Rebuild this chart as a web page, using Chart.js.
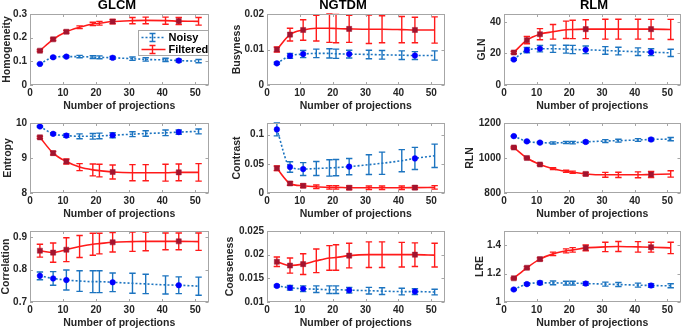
<!DOCTYPE html>
<html><head><meta charset="utf-8">
<script src="https://cdn.jsdelivr.net/npm/chart.js@4"></script>
<style>
html,body{margin:0;padding:0;background:#fff;width:685px;height:329px;overflow:hidden;position:relative}
canvas{position:absolute;display:block}
</style></head><body>
<script>
// ---------------- data ----------------
const projections = [3,7,11,15,19,21,25,31,35,41,45,51];
const markerProjections = [3,7,11,25,45];
const seriesNames = ['Noisy','Filtered'];
const xAxisLabel = 'Number of projections';

const homogeneityNoisy = [0.089,0.117,0.120,0.120,0.118,0.117,0.115,0.111,0.108,0.106,0.103,0.101];
const homogeneityNoisyErr = [0.002,0.004,0.004,0.005,0.006,0.006,0.006,0.007,0.007,0.007,0.006,0.007];
const homogeneityFiltered = [0.145,0.193,0.225,0.244,0.258,0.261,0.268,0.272,0.273,0.272,0.270,0.269];
const homogeneityFilteredErr = [0.004,0.005,0.006,0.006,0.007,0.008,0.009,0.013,0.014,0.015,0.015,0.016];

const busynessNoisy = [0.0061,0.0082,0.0087,0.0089,0.0089,0.0088,0.0087,0.0086,0.0085,0.0084,0.0083,0.0083];
const busynessNoisyErr = [0.0003,0.0007,0.0010,0.0012,0.0013,0.0013,0.0011,0.0012,0.0012,0.0012,0.0011,0.0013];
const busynessFiltered = [0.0100,0.0142,0.0155,0.0160,0.0160,0.0159,0.0158,0.0157,0.0157,0.0156,0.0155,0.0155];
const busynessFilteredErr = [0.0007,0.0018,0.0029,0.0036,0.0040,0.0040,0.0038,0.0040,0.0038,0.0037,0.0036,0.0037];

const glnNoisy = [16.2,22.1,23.0,23.0,22.7,22.5,22.3,21.9,21.5,21.1,20.8,20.4];
const glnNoisyErr = [0.6,1.7,2.0,2.3,2.5,2.6,2.4,2.4,2.4,2.4,2.2,2.3];
const glnFiltered = [20.6,28.4,32.2,33.7,35.0,35.2,35.4,35.4,35.4,35.4,35.4,35.2];
const glnFilteredErr = [0.7,2.3,3.5,4.6,5.5,5.8,6.0,6.3,6.3,6.3,6.2,6.4];

const entropyNoisy = [9.90,9.69,9.64,9.62,9.62,9.63,9.65,9.68,9.70,9.72,9.74,9.76];
const entropyNoisyErr = [0.02,0.03,0.05,0.07,0.08,0.08,0.07,0.07,0.08,0.08,0.06,0.07];
const entropyFiltered = [9.59,9.14,8.90,8.74,8.66,8.64,8.60,8.58,8.58,8.58,8.59,8.59];
const entropyFilteredErr = [0.03,0.05,0.07,0.10,0.17,0.18,0.20,0.23,0.23,0.24,0.24,0.25];

const contrastNoisy = [0.109,0.0446,0.041,0.042,0.043,0.0435,0.0452,0.0486,0.051,0.0554,0.0593,0.0638];
const contrastNoisyErr = [0.011,0.009,0.011,0.012,0.014,0.014,0.014,0.017,0.019,0.019,0.019,0.020];
const contrastFiltered = [0.0424,0.0164,0.0124,0.0107,0.0096,0.0096,0.0090,0.0090,0.0090,0.0090,0.0092,0.0096];
const contrastFilteredErr = [0.004,0.003,0.003,0.003,0.003,0.003,0.003,0.003,0.003,0.003,0.003,0.003];

const rlnNoisy = [1125,1095,1088,1086,1088,1088,1092,1097,1099,1103,1106,1108];
const rlnNoisyErr = [3,4,5,6,6,7,6,8,8,8,7,9];
const rlnFiltered = [1060,1000,963,939,924,919,909,904,904,904,906,909];
const rlnFilteredErr = [4,4,5,5,6,6,9,14,15,17,17,18];

const correlationNoisy = [0.781,0.773,0.768,0.765,0.763,0.763,0.761,0.758,0.756,0.753,0.752,0.749];
const correlationNoisyErr = [0.012,0.021,0.031,0.032,0.034,0.034,0.029,0.031,0.030,0.028,0.026,0.028];
const correlationFiltered = [0.859,0.853,0.862,0.872,0.879,0.881,0.885,0.887,0.888,0.888,0.888,0.887];
const correlationFilteredErr = [0.020,0.030,0.037,0.034,0.034,0.032,0.030,0.030,0.029,0.026,0.026,0.027];

const coarsenessNoisy = [0.0134,0.0130,0.0128,0.0127,0.0126,0.0126,0.0125,0.0124,0.0123,0.0122,0.0122,0.0121];
const coarsenessNoisyErr = [0.0002,0.0005,0.0006,0.0007,0.0008,0.0008,0.0006,0.0007,0.0007,0.0007,0.0006,0.0006];
const coarsenessFiltered = [0.0185,0.0177,0.0180,0.0187,0.0193,0.0194,0.0198,0.0200,0.0200,0.0200,0.0200,0.0199];
const coarsenessFilteredErr = [0.0010,0.0016,0.0022,0.0025,0.0026,0.0027,0.0026,0.0027,0.0027,0.0026,0.0025,0.0025];

const lreNoisy = [1.088,1.126,1.135,1.135,1.133,1.133,1.130,1.126,1.123,1.119,1.116,1.114];
const lreNoisyErr = [0.004,0.008,0.012,0.013,0.013,0.013,0.012,0.014,0.014,0.014,0.012,0.014];
const lreFiltered = [1.167,1.241,1.302,1.339,1.360,1.367,1.381,1.388,1.391,1.388,1.386,1.381];
const lreFilteredErr = [0.005,0.008,0.010,0.012,0.014,0.016,0.020,0.033,0.035,0.037,0.035,0.040];

// ---------------- styling / layout ----------------
const FONT = "'Liberation Sans', Arial, Helvetica, sans-serif";
const TEXT = '#262626';
const BLUE_LINE = '#1c74c0';
const BLUE_MARK = '#0000ff';
const RED_LINE = '#ff1a1a';
const RED_MARK = '#a2142f';
const FRAME = '#a6a6a6';

const cols = [{l:30,r:210},{l:267,r:446},{l:504,r:682}];
const rows = [{t:14,b:85},{t:122,b:193},{t:230,b:302}];

const panels = [
  {row:0,col:0,yTitle:'Homogeneity',yTitleX:7,  group:'GLCM', groupX:117, noisy:homogeneityNoisy, noisyErr:homogeneityNoisyErr, filt:homogeneityFiltered, filtErr:homogeneityFilteredErr, min:0,max:0.3,step:0.1, legend:true},
  {row:0,col:1,yTitle:'Busyness',   yTitleX:237,group:'NGTDM',groupX:343, noisy:busynessNoisy, noisyErr:busynessNoisyErr, filt:busynessFiltered, filtErr:busynessFilteredErr, min:0,max:0.02,step:0.01},
  {row:0,col:2,yTitle:'GLN',        yTitleX:482,group:'RLM',  groupX:594, noisy:glnNoisy, noisyErr:glnNoisyErr, filt:glnFiltered, filtErr:glnFilteredErr, min:0,max:45,step:20},
  {row:1,col:0,yTitle:'Entropy',    yTitleX:8,  noisy:entropyNoisy, noisyErr:entropyNoisyErr, filt:entropyFiltered, filtErr:entropyFilteredErr, min:8,max:10,step:1},
  {row:1,col:1,yTitle:'Contrast',   yTitleX:237,noisy:contrastNoisy, noisyErr:contrastNoisyErr, filt:contrastFiltered, filtErr:contrastFilteredErr, min:0,max:0.12,step:0.05},
  {row:1,col:2,yTitle:'RLN',        yTitleX:470,noisy:rlnNoisy, noisyErr:rlnNoisyErr, filt:rlnFiltered, filtErr:rlnFilteredErr, min:800,max:1200,step:200},
  {row:2,col:0,yTitle:'Correlation',yTitleX:6,  noisy:correlationNoisy, noisyErr:correlationNoisyErr, filt:correlationFiltered, filtErr:correlationFilteredErr, min:0.7,max:0.92,step:0.1},
  {row:2,col:1,yTitle:'Coarseness', yTitleX:230,noisy:coarsenessNoisy, noisyErr:coarsenessNoisyErr, filt:coarsenessFiltered, filtErr:coarsenessFilteredErr, min:0.01,max:0.025,step:0.005},
  {row:2,col:2,yTitle:'LRE',        yTitleX:480,noisy:lreNoisy, noisyErr:lreNoisyErr, filt:lreFiltered, filtErr:lreFilteredErr, min:1,max:1.5,step:0.2}
];

function drawErrIcon(ctx, x, y, half, cap){
  ctx.beginPath();
  ctx.moveTo(x, y-half); ctx.lineTo(x, y+half);
  ctx.moveTo(x-cap, y-half); ctx.lineTo(x+cap, y-half);
  ctx.moveTo(x-cap, y+half); ctx.lineTo(x+cap, y+half);
  ctx.stroke();
}

const panelPlugin = {
  id: 'panelDecor',
  beforeDatasetsDraw(chart){
    const {ctx, chartArea:ca} = chart;
    const xs = chart.scales.x, ys = chart.scales.y;
    ctx.save();
    ctx.beginPath(); ctx.rect(ca.left, ca.top-1, ca.right-ca.left, ca.bottom-ca.top+2); ctx.clip();
    chart.data.datasets.forEach(ds => {
      ctx.strokeStyle = ds.errorColor; ctx.lineWidth = 1.4;
      ds.data.forEach((p, i) => {
        const x = xs.getPixelForValue(p.x);
        const y1 = ys.getPixelForValue(p.y - ds.errors[i]);
        const y2 = ys.getPixelForValue(p.y + ds.errors[i]);
        ctx.beginPath();
        ctx.moveTo(x, y1); ctx.lineTo(x, y2);
        ctx.moveTo(x-3.2, y1); ctx.lineTo(x+3.2, y1);
        ctx.moveTo(x-3.2, y2); ctx.lineTo(x+3.2, y2);
        ctx.stroke();
      });
    });
    ctx.restore();
  },
  afterDraw(chart){
    const o = chart.options.plugins.panelDecor;
    const {ctx, chartArea:ca} = chart;
    const xs = chart.scales.x, ys = chart.scales.y;
    ctx.save();
    ctx.strokeStyle = FRAME; ctx.lineWidth = 1;
    ctx.strokeRect(Math.round(ca.left)+0.5, Math.round(ca.top)+0.5, Math.round(ca.right-ca.left)-1, Math.round(ca.bottom-ca.top)-1);
    ctx.beginPath();
    xs.ticks.forEach(t => {
      const x = Math.round(xs.getPixelForValue(t.value))+0.5;
      ctx.moveTo(x, ca.bottom); ctx.lineTo(x, ca.bottom-3);
      ctx.moveTo(x, ca.top); ctx.lineTo(x, ca.top+3);
    });
    ys.ticks.forEach(t => {
      const y = Math.round(ys.getPixelForValue(t.value))+0.5;
      ctx.moveTo(ca.left, y); ctx.lineTo(ca.left+3, y);
      ctx.moveTo(ca.right, y); ctx.lineTo(ca.right-3, y);
    });
    ctx.stroke();
    if (o.group){
      ctx.fillStyle = '#000';
      ctx.font = 'bold 13px ' + FONT;
      ctx.textAlign = 'center'; ctx.textBaseline = 'middle';
      ctx.fillText(o.group, o.groupX, o.groupY);
    }
    if (o.legend){
      const bx = Math.round(ca.left + 108)+0.5, by = Math.round(ca.top + 16)+0.5, bw = 70, bh = 25;
      ctx.fillStyle = '#fff'; ctx.fillRect(bx, by, bw, bh);
      ctx.strokeStyle = FRAME; ctx.strokeRect(bx, by, bw, bh);
      const entries = [
        {name: seriesNames[0], color: BLUE_LINE, dash:[2,2], y: by + 7},
        {name: seriesNames[1], color: RED_LINE, dash:[], y: by + 19}
      ];
      entries.forEach(e => {
        ctx.strokeStyle = e.color; ctx.lineWidth = 1.5;
        ctx.setLineDash(e.dash);
        ctx.beginPath(); ctx.moveTo(bx+3, e.y); ctx.lineTo(bx+27, e.y); ctx.stroke();
        ctx.setLineDash([]);
        ctx.lineWidth = 1.4;
        drawErrIcon(ctx, bx+14, e.y, 4, 3);
        ctx.fillStyle = '#000';
        ctx.font = 'bold 11px ' + FONT;
        ctx.textAlign = 'left'; ctx.textBaseline = 'middle';
        ctx.fillText(e.name, bx+30, e.y+0.5);
      });
    }
    ctx.restore();
  }
};

function fmt(v){ return String(Number(v.toFixed(6))); }

panels.forEach((p) => {
  const c = cols[p.col], r = rows[p.row];
  const topPad = p.row === 0 ? 15 : 8;
  const xAxisH = 27;
  const left = Math.round(p.yTitleX - 6.3);
  const yAxisW = c.l - left;
  const top = r.t - topPad;
  const width = yAxisW + (c.r - c.l) + 3;
  const height = topPad + (r.b - r.t) + xAxisH;
  const canvas = document.createElement('canvas');
  canvas.width = width; canvas.height = height;
  canvas.style.left = left + 'px'; canvas.style.top = top + 'px';
  canvas.style.width = width + 'px'; canvas.style.height = height + 'px';
  document.body.appendChild(canvas);

  const marker = projections.map(x => markerProjections.includes(x));
  const tickFont = {family: FONT, size: 10, weight: 'bold'};
  const titleFont = {family: FONT, size: 10.5, weight: 'bold', lineHeight: 1.2};

  new Chart(canvas, {
    type: 'line',
    data: {
      datasets: [
        {
          label: seriesNames[0], order: 1,
          data: projections.map((x, i) => ({x, y: p.noisy[i]})),
          errors: p.noisyErr, errorColor: BLUE_LINE,
          borderColor: BLUE_LINE, borderWidth: 1.6, borderDash: [2, 2],
          cubicInterpolationMode: 'monotone',
          pointStyle: 'circle',
          pointRadius: marker.map(m => m ? 2.8 : 0),
          pointBackgroundColor: BLUE_MARK, pointBorderColor: BLUE_MARK, pointBorderWidth: 0.5
        },
        {
          label: seriesNames[1], order: 0,
          data: projections.map((x, i) => ({x, y: p.filt[i]})),
          errors: p.filtErr, errorColor: RED_LINE,
          borderColor: RED_LINE, borderWidth: 1.6,
          cubicInterpolationMode: 'monotone',
          pointStyle: 'rect',
          pointRadius: marker.map(m => m ? 3.6 : 0),
          pointBackgroundColor: RED_MARK, pointBorderColor: RED_MARK, pointBorderWidth: 0.5
        }
      ]
    },
    options: {
      responsive: false, animation: false, events: [],
      layout: {padding: {top: topPad, right: 3, left: 0, bottom: 0}},
      plugins: {
        legend: {display: false}, tooltip: {enabled: false}, title: {display: false},
        panelDecor: {group: p.group, groupX: p.group ? p.groupX - left : 0, groupY: 5.5 - top, legend: !!p.legend}
      },
      scales: {
        x: {
          type: 'linear', min: 0, max: 54,
          afterFit: s => { s.height = xAxisH; },
          grid: {display: false, drawTicks: false}, border: {display: false},
          ticks: {stepSize: 10, includeBounds: false, padding: 2, color: TEXT, font: tickFont, maxRotation: 0, autoSkip: false},
          title: {display: true, text: xAxisLabel, color: TEXT, font: titleFont, padding: 0}
        },
        y: {
          type: 'linear', min: p.min, max: p.max,
          afterFit: s => { s.width = yAxisW; },
          grid: {display: false, drawTicks: false}, border: {display: false},
          ticks: {stepSize: p.step, includeBounds: false, padding: 3, color: TEXT, font: tickFont, autoSkip: false, callback: v => fmt(v)},
          title: {display: true, text: p.yTitle, color: TEXT, font: titleFont, padding: 0}
        }
      }
    },
    plugins: [panelPlugin]
  });
});
</script>
</body></html>
